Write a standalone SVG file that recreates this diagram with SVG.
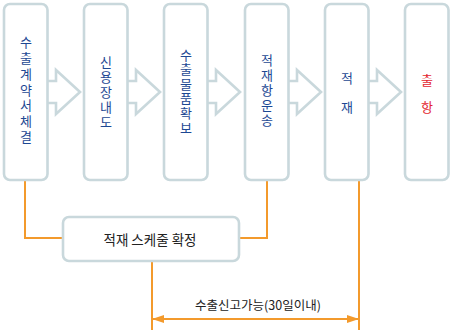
<svg xmlns="http://www.w3.org/2000/svg" width="452" height="333" viewBox="0 0 452 333">
<style>
.box{fill:#fff;stroke:#c9d8dc;stroke-width:2.6;stroke-linejoin:round}
.arr{fill:#fff;stroke:#c9d8dc;stroke-width:2.6;stroke-linejoin:miter}
.vt{font-family:"Noto Sans CJK KR","Noto Sans",sans-serif;font-size:13px;fill:#1d4893;text-anchor:middle;writing-mode:vertical-rl;letter-spacing:2px}
.red{fill:#e3262f}
.lbl{font-family:"Noto Sans CJK KR","Noto Sans",sans-serif;font-size:13px;fill:#222;text-anchor:middle}
.ol{fill:none;stroke:#f39a2c;stroke-width:2}
</style>
<defs>
<marker id="ah" markerWidth="12" markerHeight="8" refX="11" refY="4" orient="auto-start-reverse" markerUnits="userSpaceOnUse">
<path d="M0,0 L12,4 L0,8 Z" fill="#f39a2c"/>
</marker>
</defs>
<g id="arrows">
<path class="arr" d="M47,81 H56 V70 L80,92 L56,114 V103 H47"/>
<path class="arr" d="M127,81 H136 V70 L160,92 L136,114 V103 H127"/>
<path class="arr" d="M207,81 H216 V70 L240,92 L216,114 V103 H207"/>
<path class="arr" d="M288,81 H297 V70 L321,92 L297,114 V103 H288"/>
<path class="arr" d="M368,81 H377 V70 L401,92 L377,114 V103 H368"/>
</g>
<g id="connectors">
<path class="ol" d="M25,181 V238 H63"/>
<path class="ol" d="M239,238 H267 V181"/>
<path class="ol" d="M152,261 V330"/>
<path class="ol" d="M359,181 V330"/>
<path class="ol" d="M153,319 H358" marker-start="url(#ah)" marker-end="url(#ah)"/>
</g>
<g id="n1">
<rect class="box" x="4" y="4" width="43.5" height="176" rx="6"/>
<text class="vt" x="26" y="91" style="letter-spacing:2.7px">수출계약서체결</text>
</g>
<g id="n2">
<rect class="box" x="84" y="4" width="43.5" height="176" rx="6"/>
<text class="vt" x="106" y="93">신용장내도</text>
</g>
<g id="n3">
<rect class="box" x="164" y="4" width="43.5" height="176" rx="6"/>
<text class="vt" x="186" y="92" style="letter-spacing:1.6px">수출물품확보</text>
</g>
<g id="n4">
<rect class="box" x="245" y="4" width="43.5" height="176" rx="6"/>
<text class="vt" x="267" y="91">적재항운송</text>
</g>
<g id="n5">
<rect class="box" x="325" y="4" width="43.5" height="176" rx="6"/>
<text class="vt" x="347" y="101" style="letter-spacing:16px">적재</text>
</g>
<g id="n6">
<rect class="box" x="405" y="4" width="43.5" height="176" rx="6"/>
<text class="vt red" x="427" y="101" style="letter-spacing:14px">출항</text>
</g>
<g id="n7">
<rect class="box" x="63" y="217" width="176" height="44" rx="6"/>
<text class="lbl" x="150" y="244.5" style="font-size:13.5px">적재 스케줄 확정</text>
</g>
<text class="lbl" x="258" y="310" style="font-size:12.5px">수출신고가능(30일이내)</text>
</svg>
